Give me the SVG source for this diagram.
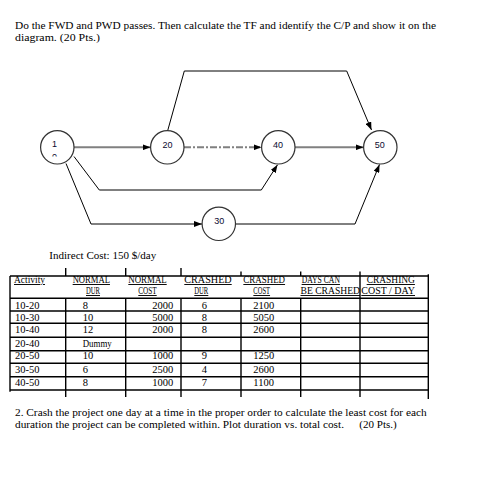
<svg xmlns="http://www.w3.org/2000/svg" width="480" height="477" viewBox="0 0 480 477">
<style>
.t{font-family:"Liberation Serif","Times New Roman",serif;fill:#000}
.ti{font-size:10.5px}
.h{font-size:9.5px;text-decoration:underline}
.b{font-size:10.5px}
.m{text-anchor:middle}
.r{text-anchor:end}
.lbl{font-family:"Liberation Sans",Arial,sans-serif;font-size:9px;fill:#0a0a30;text-anchor:middle}
.node circle{fill:#fff;stroke:#333;stroke-width:1.2}
.g{stroke:#808080;stroke-width:2;fill:none}
.k{stroke:#000;stroke-width:1;fill:none}
.grid line{stroke:#000;stroke-width:1.4}
</style>
<defs>
<marker id="a" markerWidth="8" markerHeight="6" refX="8" refY="3" orient="auto" markerUnits="userSpaceOnUse"><path d="M0,0 L8,3 L0,6 z" fill="#000"/></marker>
<clipPath id="c1"><rect x="40" y="132" width="35" height="24.5"/></clipPath>
</defs>
<rect width="480" height="477" fill="#fff"/>
<text class="t ti" x="15" y="29" textLength="421" lengthAdjust="spacingAndGlyphs">Do the FWD and PWD passes. Then calculate the TF and identify the C/P and show it on the</text>
<text class="t ti" x="15" y="41" textLength="85" lengthAdjust="spacingAndGlyphs">diagram. (20 Pts.)</text>
<g id="connectors">
<path class="g" d="M54,147.3 H150.5" marker-end="url(#a)"/>
<path class="g" d="M184,147.3 H261.5" stroke-dasharray="7,2,2,2" marker-end="url(#a)"/>
<path class="g" d="M295,147.3 H363.5" marker-end="url(#a)"/>
<path class="k" d="M167.7,130.6 L184.3,71 H346.7 L371.5,130" marker-end="url(#a)"/>
<path class="k" d="M74,156.5 L99.3,190 H261.3 L277.5,164.8" marker-end="url(#a)"/>
<path class="k" d="M66,163.5 L91,224 H202" marker-end="url(#a)"/>
<path class="k" d="M235.5,224 H355 L379.5,164.5" marker-end="url(#a)"/>
</g>
<g id="node10" class="node"><circle cx="57.3" cy="147.3" r="16.7"/><text class="lbl" x="54.5" y="147">1</text><text class="lbl" x="54.5" y="160" clip-path="url(#c1)">0</text></g>
<g id="node20" class="node"><circle cx="167.3" cy="147.3" r="16.7"/><text class="lbl" x="167.5" y="147.5">20</text></g>
<g id="node40" class="node"><circle cx="278.3" cy="147.3" r="16.7"/><text class="lbl" x="278" y="148">40</text></g>
<g id="node50" class="node"><circle cx="380.3" cy="147.3" r="16.7"/><text class="lbl" x="379.7" y="148">50</text></g>
<g id="node30" class="node"><circle cx="218.8" cy="223.8" r="16.7"/><text class="lbl" x="219.2" y="224">30</text></g>
<text class="t b" x="49.3" y="259" textLength="107" lengthAdjust="spacingAndGlyphs">Indirect Cost: 150 $/day</text>
<g id="table">
<g class="grid">
<line x1="10" y1="276" x2="428.3" y2="276"/>
<line x1="10" y1="298.3" x2="428.3" y2="298.3"/>
<line x1="10" y1="311" x2="428.3" y2="311"/>
<line x1="10" y1="323.3" x2="428.3" y2="323.3"/>
<line x1="10" y1="337.3" x2="428.3" y2="337.3"/>
<line x1="10" y1="350.7" x2="428.3" y2="350.7"/>
<line x1="10" y1="363.3" x2="428.3" y2="363.3"/>
<line x1="10" y1="376.7" x2="428.3" y2="376.7"/>
<line x1="10" y1="390" x2="428.3" y2="390"/>
<line x1="10" y1="276" x2="10" y2="391.7"/>
<line x1="428.3" y1="274.3" x2="428.3" y2="399"/>
<line x1="65.7" y1="268" x2="65.7" y2="276"/>
<line x1="125.7" y1="268" x2="125.7" y2="276"/>
<line x1="181" y1="268" x2="181" y2="276"/>
<line x1="241" y1="271.5" x2="241" y2="276"/>
<line x1="300.7" y1="271.5" x2="300.7" y2="276"/>
<line x1="360" y1="271.5" x2="360" y2="298.3"/>
<line x1="65.7" y1="298.3" x2="65.7" y2="397"/>
<line x1="125.7" y1="298.3" x2="125.7" y2="397"/>
<line x1="181" y1="298.3" x2="181" y2="397"/>
<line x1="241" y1="298.3" x2="241" y2="397"/>
<line x1="300.7" y1="298.3" x2="300.7" y2="397"/>
<line x1="360" y1="298.3" x2="360" y2="397"/>
</g>
<text class="t h" x="14" y="283" textLength="31" lengthAdjust="spacingAndGlyphs">Activity</text>
<text class="t h m" x="91.3" y="283" textLength="37.3" lengthAdjust="spacingAndGlyphs">NORMAL</text>
<text class="t h m" x="93" y="294" textLength="14" lengthAdjust="spacingAndGlyphs">DUR</text>
<text class="t h m" x="147.5" y="283" textLength="38.4" lengthAdjust="spacingAndGlyphs">NORMAL</text>
<text class="t h m" x="147.5" y="294" textLength="18.4" lengthAdjust="spacingAndGlyphs">COST</text>
<text class="t h m" x="208" y="283" textLength="47.4" lengthAdjust="spacingAndGlyphs">CRASHED</text>
<text class="t h m" x="201.3" y="294" textLength="14" lengthAdjust="spacingAndGlyphs">DUR</text>
<text class="t h m" x="264.2" y="283" textLength="41.7" lengthAdjust="spacingAndGlyphs">CRASHED</text>
<text class="t h m" x="261.7" y="294" textLength="16.7" lengthAdjust="spacingAndGlyphs">COST</text>
<text class="t h m" x="320.8" y="283" textLength="38.3" lengthAdjust="spacingAndGlyphs">DAYS CAN</text>
<text class="t h" x="300.5" y="294" textLength="59.5" lengthAdjust="spacingAndGlyphs">BE CRASHED</text>
<text class="t h m" x="390.8" y="283" textLength="48.3" lengthAdjust="spacingAndGlyphs">CRASHING</text>
<text class="t h" x="361.3" y="294" textLength="53.7" lengthAdjust="spacingAndGlyphs">COST / DAY</text>
<g class="t b">
<text x="15" y="309">10-20</text><text x="15" y="321">10-30</text><text x="15" y="333.3">10-40</text><text x="15" y="346.7">20-40</text><text x="15" y="359.3">20-50</text><text x="15" y="372.7">30-50</text><text x="15" y="386">40-50</text>
<text x="82.7" y="309">8</text><text x="82.7" y="321">10</text><text x="82.7" y="333.3">12</text><text x="82.7" y="346.7" textLength="29" lengthAdjust="spacingAndGlyphs">Dummy</text><text x="82.7" y="359.3">10</text><text x="82.7" y="372.7">6</text><text x="82.7" y="386">8</text>
<text class="r" x="173.3" y="309">2000</text><text class="r" x="173.3" y="321">5000</text><text class="r" x="173.3" y="333.3">2000</text><text class="r" x="173.3" y="359.3">1000</text><text class="r" x="173.3" y="372.7">2500</text><text class="r" x="173.3" y="386">1000</text>
<text x="201.7" y="309">6</text><text x="201.7" y="321">8</text><text x="201.7" y="333.3">8</text><text x="201.7" y="359.3">9</text><text x="201.7" y="372.7">4</text><text x="201.7" y="386">7</text>
<text x="253.3" y="309">2100</text><text x="253.3" y="321">5050</text><text x="253.3" y="333.3">2600</text><text x="253.3" y="359.3">1250</text><text x="253.3" y="372.7">2600</text><text x="253.3" y="386">1100</text>
</g>
</g>
<text class="t ti" x="15" y="416" textLength="411.7" lengthAdjust="spacingAndGlyphs">2. Crash the project one day at a time in the proper order to calculate the least cost for each</text>
<text class="t ti" x="15" y="427.5" textLength="329" lengthAdjust="spacingAndGlyphs">duration the project can be completed within. Plot duration vs. total cost.</text>
<text class="t ti" x="359.3" y="427.5" textLength="37.4" lengthAdjust="spacingAndGlyphs">(20 Pts.)</text>
</svg>
